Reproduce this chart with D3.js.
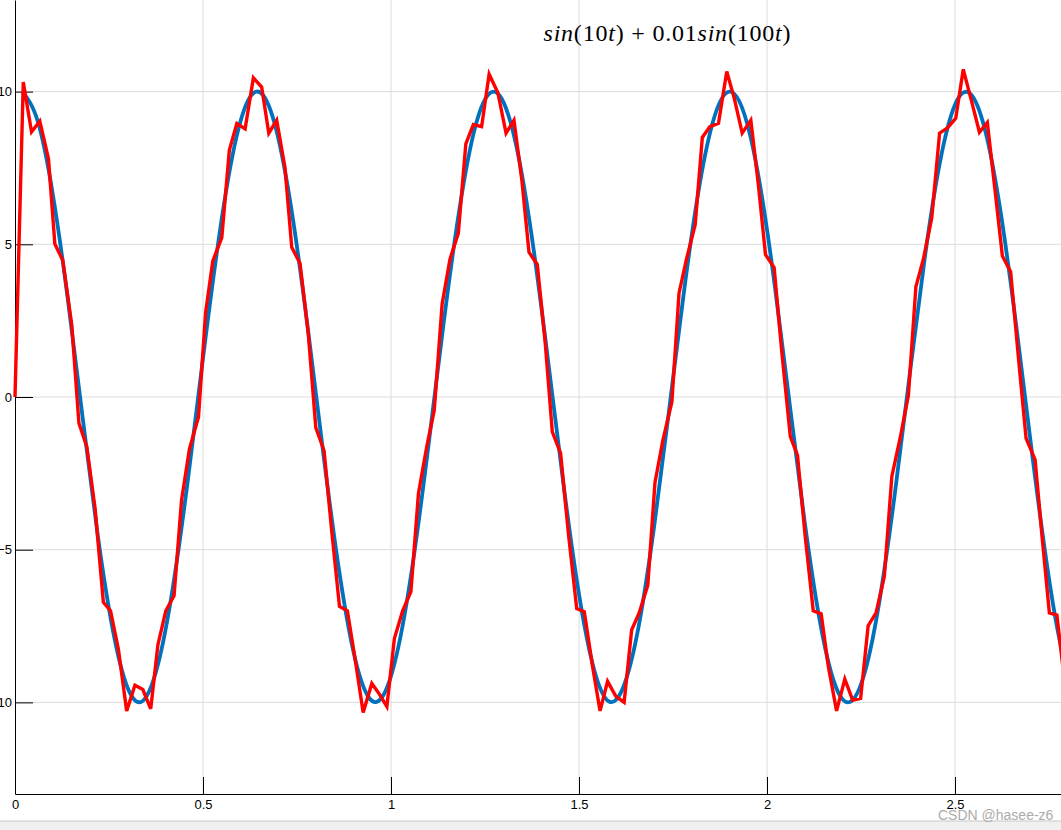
<!DOCTYPE html>
<html>
<head>
<meta charset="utf-8" />
<title>sin(10t) + 0.01sin(100t)</title>
<style>
    body { margin: 0; background: #fff; }
    svg { display: block; }
    .tick text { font-family: "Liberation Sans", Arial, sans-serif; font-size: 13px; fill: #000; }
</style>
</head>
<body>
<div id="container"></div>
<script src="https://cdn.jsdelivr.net/npm/d3@7"></script>
<script>
    // continuous signal (blue)
    const blueT = [0.02, 0.06, 0.10, 0.14, 0.18, 0.22, 0.26, 0.30, 0.34, 0.38,
        0.42, 0.46, 0.50, 0.54, 0.58, 0.62, 0.66, 0.70, 0.74, 0.78,
        0.82, 0.86, 0.90, 0.94, 0.98, 1.02, 1.06, 1.10, 1.14, 1.18,
        1.22, 1.26, 1.30, 1.34, 1.38, 1.42, 1.46, 1.50, 1.54, 1.58,
        1.62, 1.66, 1.70, 1.74, 1.78, 1.82, 1.86, 1.90, 1.94, 1.98,
        2.02, 2.06, 2.10, 2.14, 2.18, 2.22, 2.26, 2.30, 2.34, 2.38,
        2.42, 2.46, 2.50, 2.54, 2.58, 2.62, 2.66, 2.70, 2.74, 2.78, 2.82]
    const blueV = [9.99, 9.05, 6.68, 3.25, -0.69, -4.52, -7.62, -9.54, -9.95, -8.77,
        -6.22, -2.69, 1.27, 5.01, 8.00, 9.71, 9.88, 8.49, 5.76, 2.13,
        -1.85, -5.52, -8.33, -9.82, -9.76, -8.16, -5.28, -1.55, 2.42, 5.99,
        8.65, 9.92, 9.63, 7.82, 4.77, 0.97, -2.98, -6.46, -8.92, -9.97,
        -9.43, -7.42, -4.22, -0.39, 3.53, 6.90, 9.17, 10.00, 9.25, 7.04,
        3.71, -0.20, -4.07, -7.30, -9.39, -9.99, -9.02, -6.61, -3.16, 0.78,
        4.59, 7.69, 9.57, 9.94, 8.74, 6.16, 2.61, -1.36, -5.11, -8.06, -9.72]

    // sampled signal (red), one value per vertex
    const redT = [0, 0.022, 0.044, 0.066, 0.089, 0.106, 0.127, 0.151, 0.170, 0.191,
        0.213, 0.235, 0.254, 0.275, 0.297, 0.319, 0.340, 0.361, 0.380, 0.401,
        0.423, 0.443, 0.464, 0.488, 0.507, 0.526, 0.550, 0.570, 0.590, 0.612,
        0.634, 0.656, 0.675, 0.696, 0.718, 0.736, 0.758, 0.780, 0.800, 0.822,
        0.842, 0.863, 0.884, 0.904, 0.926, 0.949, 0.969, 0.989, 1.009, 1.031,
        1.053, 1.073, 1.095, 1.115, 1.136, 1.157, 1.179, 1.199, 1.219, 1.241,
        1.261, 1.284, 1.306, 1.327, 1.348, 1.367, 1.389, 1.410, 1.429, 1.451,
        1.472, 1.494, 1.514, 1.536, 1.556, 1.576, 1.598, 1.620, 1.640, 1.660,
        1.683, 1.702, 1.723, 1.747, 1.766, 1.786, 1.809, 1.828, 1.848, 1.871,
        1.893, 1.913, 1.934, 1.957, 1.977, 1.996, 2.019, 2.039, 2.062, 2.081,
        2.101, 2.123, 2.144, 2.163, 2.185, 2.207, 2.228, 2.249, 2.269, 2.290,
        2.312, 2.332, 2.354, 2.376, 2.396, 2.416, 2.438, 2.459, 2.480, 2.502,
        2.522, 2.544, 2.565, 2.586, 2.606, 2.626, 2.648, 2.668, 2.689, 2.713,
        2.732, 2.751, 2.771, 2.791]
    const redV = [0, 10.31, 8.68, 9.03, 7.80, 5.01, 4.48, 2.35, -0.86, -1.63,
        -3.65, -6.72, -7.00, -8.26, -10.28, -9.44, -9.58, -10.21, -8.12, -7.00,
        -6.51, -3.37, -1.70, -0.65, 2.77, 4.45, 5.22, 8.08, 8.96, 8.78,
        10.45, 10.15, 8.64, 9.06, 7.52, 4.90, 4.38, 2.08, -1.00, -1.76,
        -4.35, -6.86, -7.00, -8.54, -10.33, -9.38, -9.73, -10.14, -7.91, -7.00,
        -6.37, -3.16, -1.63, -0.44, 3.05, 4.52, 5.36, 8.29, 8.92, 8.85,
        10.57, 9.97, 8.64, 9.06, 7.10, 4.74, 4.34, 1.80, -1.14, -1.84,
        -4.49, -6.93, -7.03, -8.82, -10.28, -9.31, -9.80, -10.00, -7.63, -7.07,
        -6.16, -2.81, -1.42, -0.16, 3.40, 4.52, 5.64, 8.50, 8.85, 8.96,
        10.66, 9.78, 8.64, 9.06, 6.96, 4.66, 4.24, 1.52, -1.30, -1.90,
        -4.49, -7.00, -7.10, -8.82, -10.28, -9.24, -9.93, -9.87, -7.49, -7.07,
        -5.88, -2.60, -1.35, 0.05, 3.61, 4.52, 5.85, 8.64, 8.81, 9.13,
        10.73, 9.69, 8.67, 8.99, 6.82, 4.62, 4.10, 1.38, -1.35, -2.05,
        -4.63, -7.07, -7.14, -9.30]

    const xTicks = [0, 0.5, 1, 1.5, 2, 2.5]
    const yTicks = [-10, -5, 0, 5, 10]
    const title = [['sin', true], ['(10', false], ['t', true], [') + 0.01', false],
        ['sin', true], ['(100', false], ['t', true], [')', false]]

    const W = 1061, H = 830
    const plotLeft = 15, plotTop = 0, plotBottom = 794

    let svg = d3.select('#container').append('svg').attr('width', W).attr('height', H)

    let xScale = d3.scaleLinear().domain([0, 2.8]).range([plotLeft, plotLeft + 2.8 * 376])
    let yScale = d3.scaleLinear().domain([-13, 13]).range([plotBottom, plotTop])

    // grid
    let grid = svg.append('g')
    grid.selectAll('.gx').data(xTicks.slice(1)).enter().append('line')
        .attr('x1', d => xScale(d)).attr('x2', d => xScale(d))
        .attr('y1', plotTop).attr('y2', plotBottom)
        .attr('stroke', '#dcdcdc').attr('stroke-width', 1)
    grid.selectAll('.gy').data(yTicks).enter().append('line')
        .attr('x1', plotLeft).attr('x2', W)
        .attr('y1', d => yScale(d)).attr('y2', d => yScale(d))
        .attr('stroke', '#dcdcdc').attr('stroke-width', 1)

    // axes, ticks point inward
    let xAxis = d3.axisBottom(xScale).tickValues(xTicks).tickSize(-17).tickSizeOuter(0).tickPadding(6)
    let yAxis = d3.axisLeft(yScale).tickValues(yTicks).tickSize(-18).tickSizeOuter(0).tickPadding(3)

    let gx = svg.append('g').attr('transform', `translate(0,${plotBottom})`).call(xAxis)
    let gy = svg.append('g').attr('transform', `translate(${plotLeft},0)`).call(yAxis)
    gx.select('.domain').attr('stroke', '#000')
    gy.select('.domain').attr('stroke', '#000')
    gx.selectAll('.tick text').text(d => d3.format('')(d))

    // curves
    let blueLine = d3.line().x((d, i) => xScale(blueT[i])).y(d => yScale(d)).curve(d3.curveNatural)
    let redLine = d3.line().x((d, i) => xScale(redT[i])).y(d => yScale(d))

    svg.append('path').datum(blueV).attr('d', blueLine)
        .attr('fill', 'none').attr('stroke', '#0072BD').attr('stroke-width', 3.8)
        .attr('stroke-linejoin', 'round')
    svg.append('path').datum(redV).attr('d', redLine)
        .attr('fill', 'none').attr('stroke', '#FF0000').attr('stroke-width', 3.4)
        .attr('stroke-linejoin', 'miter')

    // title
    let tt = svg.append('text').attr('x', 667).attr('y', 41).attr('text-anchor', 'middle')
        .attr('textLength', 247).attr('lengthAdjust', 'spacing')
        .style('font-family', '"Liberation Serif", "DejaVu Serif", serif').style('font-size', '24px')
    tt.selectAll('tspan').data(title).enter().append('tspan')
        .style('font-style', d => d[1] ? 'italic' : 'normal')
        .text(d => d[0])

    // window strip and watermark
    svg.append('rect').attr('x', 0).attr('y', 821).attr('width', W).attr('height', H - 821).attr('fill', '#f0f0f0')
    svg.append('line').attr('x1', 0).attr('x2', W).attr('y1', 821).attr('y2', 821).attr('stroke', '#c8c8c8')
    svg.append('text').attr('x', 938).attr('y', 820).text('CSDN @hasee-z6')
        .style('font-family', '"Liberation Sans", Arial, sans-serif').style('font-size', '14px').attr('fill', '#ababab')
</script>
</body>
</html>
